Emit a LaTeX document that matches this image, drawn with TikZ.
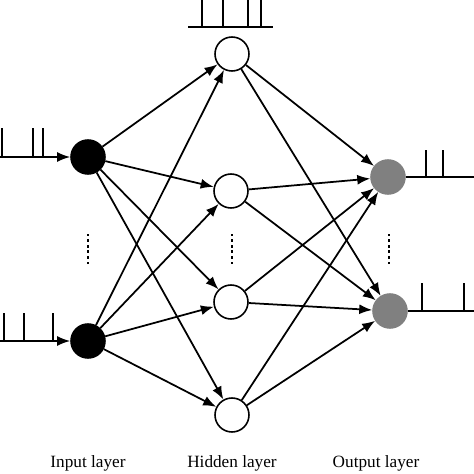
\documentclass[tikz,border=0pt]{standalone}
\usepackage{fontspec}
\setmainfont{Liberation Serif}
\usepackage{tikz}
\usetikzlibrary{arrows.meta}
\definecolor{outgrey}{gray}{0.5}
\tikzstyle{neuron}=[circle, draw=black, line width=0.9pt, minimum size=0.68cm, inner sep=0pt]
\tikzstyle{inneuron}=[neuron, fill=black]
\tikzstyle{hidneuron}=[neuron, fill=white]
\tikzstyle{outneuron}=[neuron, draw=outgrey, fill=outgrey]
\tikzstyle{link}=[line width=1pt, -{Latex[length=0.26cm,width=0.2cm]}]
\tikzstyle{spike}=[line width=1pt]
\tikzstyle{layername}=[font=\fontsize{9.8}{12}\selectfont]

\begin{document}
\begin{tikzpicture}[x=0.02cm, y=-0.02cm]
    \useasboundingbox (0,0) rectangle (474,474);
    % neurons
    \node [inneuron] (in1) at (88,157) {};
    \node [inneuron] (in2) at (88,341) {};
    \node [hidneuron] (hid1) at (232,54) {};
    \node [hidneuron] (hid2) at (231,191) {};
    \node [hidneuron] (hid3) at (231,302) {};
    \node [hidneuron] (hid4) at (232,415) {};
    \node [outneuron] (out1) at (388,177) {};
    \node [outneuron] (out2) at (390,311) {};
    % connections
    \foreach \i in {1,2}
        \foreach \j in {1,...,4}
            \draw [link] (in\i) -- (hid\j);
    \foreach \j in {1,...,4}
        \foreach \k in {1,2}
            \draw [link] (hid\j) -- (out\k);
    % spike trains
    \draw [link] (0,157) -- (in1);
    \foreach \x in {2,33,43}
        \draw [spike] (\x,157) -- (\x,128);
    \draw [link] (0,341) -- (in2);
    \foreach \x in {4,24,53}
        \draw [spike] (\x,341) -- (\x,313);
    \draw [spike] (188,27) -- (273,27);
    \foreach \x in {202,223,248,261}
        \draw [spike] (\x,27) -- (\x,0);
    \draw [spike] (out1) -- (474,177);
    \foreach \x in {426,443}
        \draw [spike] (\x,177) -- (\x,150);
    \draw [spike] (out2.east) -- (474,311);
    \foreach \x in {422,464}
        \draw [spike] (\x,311) -- (\x,283);
    % dots
    \foreach \x in {88,232,389}
        \foreach \y in {235,240.6,246.2,251.8,257.4,263}
            \fill (\x-1.4,\y-1.4) rectangle (\x+1.4,\y+1.4);
    % layer names
    \node [layername] (inname) at (88,463) {Input layer};
    \node [layername] (hidname) at (232,463) {Hidden layer};
    \node [layername] (outname) at (376,463) {Output layer};
\end{tikzpicture}
\end{document}
